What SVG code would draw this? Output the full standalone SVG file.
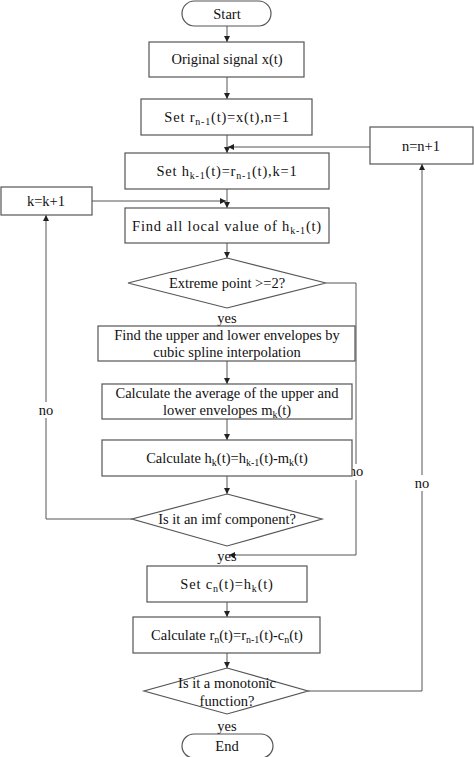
<svg xmlns="http://www.w3.org/2000/svg" width="474" height="757" viewBox="0 0 474 757">
<style>
.box{fill:#fff;stroke:#555;stroke-width:1.2}
.t{font-family:"Liberation Serif","Times New Roman",serif;font-size:14.5px;fill:#111;text-anchor:middle}
.sp{letter-spacing:0.8px}
.c{fill:none;stroke:#555;stroke-width:1}
.lbl{fill:#fff}
</style>
<defs>
<marker id="ah" viewBox="0 0 8 8" refX="8" refY="4" markerWidth="6" markerHeight="6" orient="auto" markerUnits="userSpaceOnUse">
<path d="M0,0 L8,4 L0,8 z" fill="#222"/>
</marker>
</defs>
<g id="connectors">
<line class="c" x1="227" y1="26" x2="227" y2="42" marker-end="url(#ah)"/>
<line class="c" x1="227" y1="77" x2="227" y2="99" marker-end="url(#ah)"/>
<line class="c" x1="227" y1="135" x2="227" y2="153" marker-end="url(#ah)"/>
<line class="c" x1="370" y1="147" x2="228" y2="147" marker-end="url(#ah)"/>
<line class="c" x1="227" y1="189" x2="227" y2="208" marker-end="url(#ah)"/>
<line class="c" x1="92" y1="201" x2="226" y2="201" marker-end="url(#ah)"/>
<line class="c" x1="227" y1="243" x2="227" y2="258" marker-end="url(#ah)"/>
<polyline class="c" points="326,283 356,283 356,555 229,555" marker-end="url(#ah)"/>
<line class="c" x1="227" y1="361" x2="227" y2="384" marker-end="url(#ah)"/>
<line class="c" x1="227" y1="419" x2="227" y2="440" marker-end="url(#ah)"/>
<line class="c" x1="227" y1="476" x2="227" y2="494" marker-end="url(#ah)"/>
<polyline class="c" points="132,519 46,519 46,215" marker-end="url(#ah)"/>
<line class="c" x1="227" y1="602" x2="227" y2="617" marker-end="url(#ah)"/>
<line class="c" x1="227" y1="653" x2="227" y2="668" marker-end="url(#ah)"/>
<polyline class="c" points="308,691 422,691 422,164" marker-end="url(#ah)"/>
<rect class="lbl" x="36" y="402" width="20" height="16"/>
<text class="t" x="46" y="415">no</text>
<rect class="lbl" x="348" y="464" width="16" height="16"/>
<text class="t" x="356" y="476">no</text>
<rect class="lbl" x="412" y="475" width="20" height="16"/>
<text class="t" x="422" y="488">no</text>
<text class="t" x="227" y="323">yes</text>
<text class="t" x="227" y="561">yes</text>
<text class="t" x="227" y="731">yes</text>
</g>
<g id="start">
<rect class="box" x="182" y="1" width="89" height="25" rx="12.5"/>
<text class="t" x="227" y="19">Start</text>
</g>
<g id="original">
<rect class="box" x="149" y="42" width="155" height="35"/>
<text class="t" x="227" y="64">Original signal x(t)</text>
</g>
<g id="set-r">
<rect class="box" x="141" y="99" width="171" height="36"/>
<text class="t sp" x="227" y="122">Set r<tspan font-size="10" dy="3">n-1</tspan><tspan dy="-3">(t)=x(t),n=1</tspan></text>
</g>
<g id="set-h">
<rect class="box" x="125" y="153" width="204" height="36"/>
<text class="t sp" x="227" y="176">Set h<tspan font-size="10" dy="3">k-1</tspan><tspan dy="-3">(t)=r</tspan><tspan font-size="10" dy="3">n-1</tspan><tspan dy="-3">(t),k=1</tspan></text>
</g>
<g id="n-inc">
<rect class="box" x="370" y="127" width="103" height="37"/>
<text class="t" x="421" y="151">n=n+1</text>
</g>
<g id="k-inc">
<rect class="box" x="1" y="187" width="91" height="28"/>
<text class="t" x="46" y="206">k=k+1</text>
</g>
<g id="find-local">
<rect class="box" x="125" y="208" width="204" height="35"/>
<text class="t sp" x="227" y="231">Find all local value of h<tspan font-size="10" dy="3">k-1</tspan><tspan dy="-3">(t)</tspan></text>
</g>
<g id="extreme">
<polygon class="box" points="227,258 326,283 227,308 128,283"/>
<text class="t" x="227" y="288">Extreme point &gt;=2?</text>
</g>
<g id="envelopes">
<rect class="box" x="98" y="326" width="257" height="35"/>
<text class="t" x="227" y="340">Find the upper and lower envelopes by</text>
<text class="t" x="227" y="357">cubic spline interpolation</text>
</g>
<g id="average">
<rect class="box" x="102" y="384" width="250" height="35"/>
<text class="t" x="227" y="398">Calculate the average of the upper and</text>
<text class="t" x="227" y="415">lower envelopes m<tspan font-size="10" dy="3">k</tspan><tspan dy="-3">(t)</tspan></text>
</g>
<g id="calc-h">
<rect class="box" x="102" y="440" width="250" height="36"/>
<text class="t" x="227" y="463">Calculate h<tspan font-size="10" dy="3">k</tspan><tspan dy="-3">(t)=h</tspan><tspan font-size="10" dy="3">k-1</tspan><tspan dy="-3">(t)-m</tspan><tspan font-size="10" dy="3">k</tspan><tspan dy="-3">(t)</tspan></text>
</g>
<g id="imf">
<polygon class="box" points="227,494 322,519 227,546 132,519"/>
<text class="t" x="227" y="524">Is it an imf component?</text>
</g>
<g id="set-c">
<rect class="box" x="147" y="566" width="160" height="36"/>
<text class="t sp" x="227" y="589">Set c<tspan font-size="10" dy="3">n</tspan><tspan dy="-3">(t)=h</tspan><tspan font-size="10" dy="3">k</tspan><tspan dy="-3">(t)</tspan></text>
</g>
<g id="calc-r">
<rect class="box" x="133" y="617" width="187" height="36"/>
<text class="t" x="227" y="640">Calculate r<tspan font-size="10" dy="3">n</tspan><tspan dy="-3">(t)=r</tspan><tspan font-size="10" dy="3">n-1</tspan><tspan dy="-3">(t)-c</tspan><tspan font-size="10" dy="3">n</tspan><tspan dy="-3">(t)</tspan></text>
</g>
<g id="monotonic">
<polygon class="box" points="227,668 308,691 227,714 144,691"/>
<text class="t" x="227" y="688">Is it a monotonic</text>
<text class="t" x="227" y="706">function?</text>
</g>
<g id="end">
<rect class="box" x="182" y="734" width="91" height="24" rx="12"/>
<text class="t" x="227" y="751">End</text>
</g>
</svg>
